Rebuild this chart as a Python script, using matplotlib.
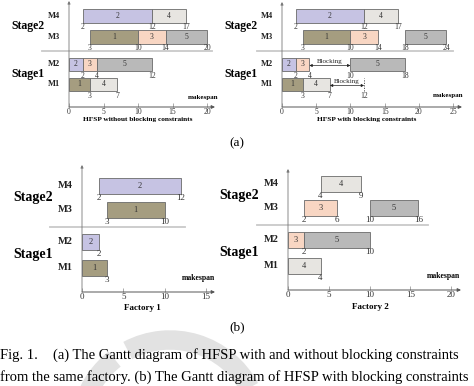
import matplotlib
matplotlib.use("Agg")
import matplotlib.pyplot as plt
from matplotlib.patches import Arc
from matplotlib.transforms import offset_copy

plt.rcParams['font.family'] = ['Liberation Serif', 'DejaVu Serif']

W, H = 474, 386

JOB_COLORS = {1: '#a59d80', 2: '#c6c3e3', 3: '#f8d6c3', 4: '#e7e5e1', 5: '#b9b9b9'}

# (a) left: HFSP without blocking
A1_MACHINE = ['M4', 'M4', 'M3', 'M3', 'M3', 'M2', 'M2', 'M2', 'M1', 'M1']
A1_JOB = [2, 4, 1, 3, 5, 2, 3, 5, 1, 4]
A1_START = [2, 12, 3, 10, 14, 0, 2, 4, 0, 3]
A1_END = [12, 17, 10, 14, 20, 2, 4, 12, 3, 7]
A1_TICKS = [0, 5, 10, 15, 20]

# (a) right: HFSP with blocking
A2_MACHINE = ['M4', 'M4', 'M3', 'M3', 'M3', 'M2', 'M2', 'M2', 'M1', 'M1']
A2_JOB = [2, 4, 1, 3, 5, 2, 3, 5, 1, 4]
A2_START = [2, 12, 3, 10, 18, 0, 2, 10, 0, 3]
A2_END = [12, 17, 10, 14, 24, 2, 4, 18, 3, 7]
A2_TICKS = [0, 5, 10, 15, 20, 25]
A2_BLOCK_MACHINE = ['M2', 'M1']
A2_BLOCK_START = [4, 7]
A2_BLOCK_END = [10, 12]

# (b) factory 1
B1_MACHINE = ['M4', 'M3', 'M2', 'M1']
B1_JOB = [2, 1, 2, 1]
B1_START = [2, 3, 0, 0]
B1_END = [12, 10, 2, 3]
B1_TICKS = [0, 5, 10, 15]

# (b) factory 2
B2_MACHINE = ['M4', 'M3', 'M3', 'M2', 'M2', 'M1']
B2_JOB = [4, 3, 5, 3, 5, 4]
B2_START = [4, 2, 10, 0, 2, 0]
B2_END = [9, 6, 16, 2, 10, 4]
B2_TICKS = [0, 5, 10, 15, 20]

fig = plt.figure(figsize=(W / 100, H / 100), dpi=100)

# faint watermark behind caption
bg = fig.add_axes([0, 0, 1, 1], zorder=-1)
bg.set_xlim(0, W)
bg.set_ylim(0, H)
bg.axis('off')
bg.add_patch(Arc((170, -44), 180, 180, theta1=128, theta2=162, lw=14, color='#e2e2e2'))
bg.add_patch(Arc((170, -44), 180, 180, theta1=28, theta2=118, lw=14, color='#e2e2e2'))


def panel(x0, y_axis, x_end, top, ppu):
    ax = fig.add_axes([x0 / W, 1 - y_axis / H, (x_end - x0) / W, (y_axis - top) / H])
    ax.set_xlim(0, (x_end - x0) / ppu)
    ax.set_ylim(0, y_axis - top)
    ax.patch.set_alpha(0)
    for s in ax.spines.values():
        s.set_visible(False)
    ax.set_yticks([])
    return ax


def draw(ax, ppu, rows, h, sep, machine, job, start, end, ticks, fs, blocks=None):
    # axis arrows
    ax.annotate('', xy=(1, 0), xytext=(0, 0), xycoords='axes fraction',
                arrowprops=dict(arrowstyle='-|>', color='#555555', lw=0.7,
                                mutation_scale=5, shrinkA=0, shrinkB=0),
                annotation_clip=False)
    ax.annotate('', xy=(0, 1), xytext=(0, 0), xycoords='axes fraction',
                arrowprops=dict(arrowstyle='-|>', color='#777777', lw=0.6,
                                mutation_scale=4, shrinkA=0, shrinkB=0),
                annotation_clip=False)
    ax.plot([sep[0] / ppu, sep[1] / ppu], [rows['sep']] * 2, color='#c9c9c9',
            lw=1.3, clip_on=False, zorder=1)
    ax.set_xticks(ticks)
    ax.tick_params(axis='x', direction='in', length=3, width=0.5, color='#888888',
                   labelsize=fs['tick'], pad=1, labelcolor='#333333')

    labels = {}
    for m, j, s, e in zip(machine, job, start, end):
        y = rows[m]
        ax.barh(y, e - s, left=s, height=h, color=JOB_COLORS[j],
                edgecolor='#6a6a6a', lw=0.6, zorder=3)
        ax.text((s + e) / 2, y, str(j), ha='center', va='center',
                fontsize=fs['job'], color='#333333', zorder=4)
        labels.setdefault(m, set()).update([s, e])
    if blocks:
        for m, s, e in zip(*blocks):
            y = rows[m]
            ax.annotate('', xy=(e, y - 1), xytext=(s, y - 1),
                        arrowprops=dict(arrowstyle='<|-|>', color='#222222', lw=0.5,
                                        mutation_scale=4, shrinkA=0, shrinkB=0))
            ax.text((s + e) / 2, y + 3.5, 'Blocking', ha='center', va='center',
                    fontsize=5, color='#222222')
            if e not in labels[m]:
                ax.plot([e, e], [y - h / 2, y + h / 2], ls=(0, (1.5, 1.5)),
                        color='#444444', lw=0.6)
            labels[m].add(e)
    for m, vals in labels.items():
        for v in sorted(vals):
            if v == 0:
                continue
            ax.text(v, rows[m] - h / 2 - 0.5, str(v), ha='center', va='top',
                    fontsize=fs['tick'], color='#333333')

    # machine and stage labels left of the y axis
    for m in ['M1', 'M2', 'M3', 'M4']:
        tr = offset_copy(ax.transData, fig=fig, x=-fs['moff'], y=0, units='dots')
        ax.text(0, rows[m], m, transform=tr, ha='center', va='center',
                fontsize=fs['m'], fontweight='bold', color='#222222')
    tr = offset_copy(ax.transData, fig=fig, x=-fs['soff'], y=0, units='dots')
    ax.text(0, (rows['M3'] + rows['M4']) / 2, 'Stage2', transform=tr, ha='center',
            va='center', fontsize=fs['stage'], fontweight='bold')
    ax.text(0, (rows['M1'] + rows['M2']) / 2, 'Stage1', transform=tr, ha='center',
            va='center', fontsize=fs['stage'], fontweight='bold')


ROWS_A = {'M1': 22.5, 'M2': 42.5, 'M3': 70, 'M4': 91, 'sep': 56.5}
ROWS_B = {'M1': 24.5, 'M2': 50, 'M3': 82, 'M4': 106, 'sep': 65}
FS_A = dict(tick=5.5, job=5.5, m=6, stage=8.5, moff=15, soff=41)
FS_B = dict(tick=6.5, job=6, m=7.5, stage=10, moff=17, soff=49)

ax = panel(69, 107, 215, 1, 6.9)
draw(ax, 6.9, ROWS_A, 13.5, (42 - 69, 212 - 69), A1_MACHINE, A1_JOB, A1_START, A1_END,
     A1_TICKS, FS_A)

ax = panel(282, 107, 462, 2, 6.84)
draw(ax, 6.84, ROWS_A, 13.5, (257 - 282, 453 - 282), A2_MACHINE, A2_JOB, A2_START, A2_END,
     A2_TICKS, FS_A, blocks=(A2_BLOCK_MACHINE, A2_BLOCK_START, A2_BLOCK_END))

ax = panel(82, 292, 215, 165, 8.25)
draw(ax, 8.25, ROWS_B, 16, (50 - 82, 185 - 82), B1_MACHINE, B1_JOB, B1_START, B1_END,
     B1_TICKS, FS_B)

ax = panel(288, 290, 461, 169, 8.15)
draw(ax, 8.15, ROWS_B, 16, (257 - 288, 428 - 288), B2_MACHINE, B2_JOB, B2_START, B2_END,
     B2_TICKS, FS_B)


def ftext(x, y, s, **kw):
    fig.text(x / W, 1 - y / H, s, **kw)


ftext(218, 97, 'makespan', ha='right', va='center', fontsize=5, fontweight='bold')
ftext(463, 95, 'makespan', ha='right', va='center', fontsize=5, fontweight='bold')
ftext(215, 278, 'makespan', ha='right', va='center', fontsize=5.5, fontweight='bold')
ftext(460, 276, 'makespan', ha='right', va='center', fontsize=5.5, fontweight='bold')
ftext(138, 120, 'HFSP without blocking constraints', ha='center', va='center',
      fontsize=5.3, fontweight='bold')
ftext(367, 120, 'HFSP with blocking constraints', ha='center', va='center',
      fontsize=5.3, fontweight='bold')
ftext(142, 308, 'Factory 1', ha='center', va='center', fontsize=6.5, fontweight='bold')
ftext(370, 307, 'Factory 2', ha='center', va='center', fontsize=6.5, fontweight='bold')
ftext(237, 143, '(a)', ha='center', va='center', fontsize=9.5)
ftext(237, 327, '(b)', ha='center', va='center', fontsize=9.5)
ftext(0, 355, 'Fig. 1.', ha='left', va='center', fontsize=10.5)
ftext(53, 355, '(a) The Gantt diagram of HFSP with and without blocking constraints',
      ha='left', va='center', fontsize=10.5)
ftext(0, 377, 'from the same factory. (b) The Gantt diagram of HFSP with blocking constraints',
      ha='left', va='center', fontsize=10.5)

fig.savefig('out.png', dpi=100)
